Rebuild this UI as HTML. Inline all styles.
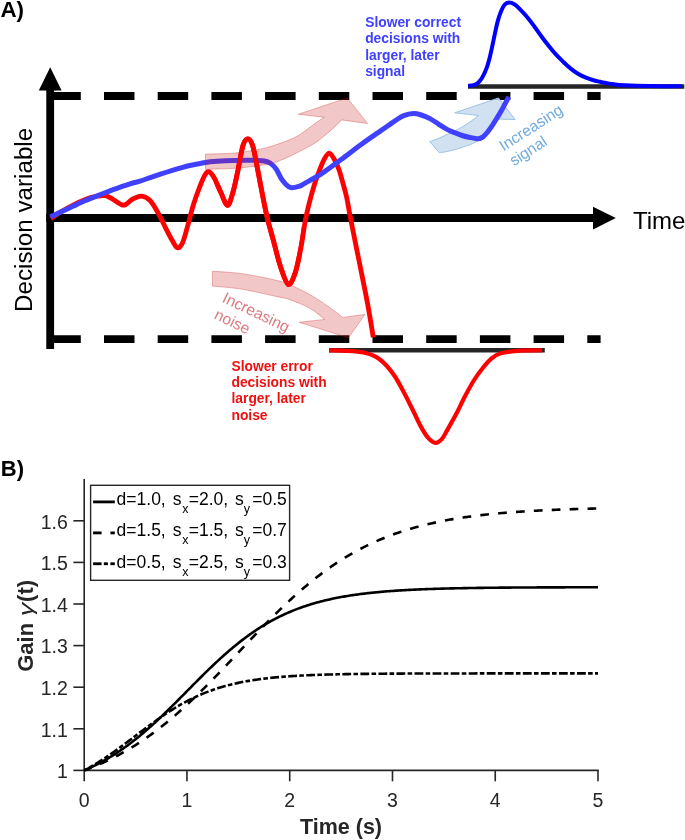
<!DOCTYPE html>
<html><head><meta charset="utf-8"><title>Figure</title>
<style>
html,body{margin:0;padding:0;background:#fff;}
body{width:685px;height:840px;overflow:hidden;}
svg{display:block;}
text{font-family:"Liberation Sans",Arial,Helvetica,sans-serif;}
</style></head><body>
<svg width="685" height="840" viewBox="0 0 685 840">
<rect width="685" height="840" fill="#fff"/>
<defs>
<clipPath id="redclip"><rect x="214" y="100" width="88" height="200"/></clipPath>
</defs>
<!-- Panel A -->
<text x="0.4" y="16.6" font-size="22.4" font-weight="bold" fill="#000">A)</text>
<g fill="none" stroke="#000" stroke-width="7.8" stroke-dasharray="30.5 23.2">
<line x1="50.3" y1="96" x2="600.6" y2="96"/>
<line x1="50.3" y1="339.2" x2="600.6" y2="339.2"/>
</g>
<line x1="50.2" y1="349" x2="50.2" y2="89" stroke="#000" stroke-width="7.8"/>
<polygon points="38.8,90.4 61.6,90.4 50.2,67.2" fill="#000"/>
<line x1="46.3" y1="218" x2="594" y2="218" stroke="#000" stroke-width="8"/>
<polygon points="593,206.8 593,229.4 615.8,218.1" fill="#000"/>
<text x="633" y="228.6" font-size="24" fill="#000">Time</text>
<text transform="translate(32.1,312) rotate(-90)" font-size="24.2" fill="#000">Decision variable</text>

<path d="M429.80,141.60 C431.50,140.95 435.38,139.72 440.00,137.70 C444.62,135.68 452.63,132.03 457.50,129.50 C462.37,126.97 465.70,124.83 469.20,122.50 C472.70,120.17 476.95,116.67 478.50,115.50 L454.7,112.8 L498.5,98.0 L515.2,119.6 L496.0,119.0 C495.03,120.75 492.53,126.42 490.20,129.50 C487.87,132.58 484.53,135.35 482.00,137.50 C479.47,139.65 478.10,140.82 475.00,142.40 C471.90,143.98 467.28,145.65 463.40,147.00 C459.52,148.35 455.70,149.52 451.70,150.50 C447.70,151.48 441.45,152.50 439.40,152.90 Z" fill="#c9dcf0" fill-opacity="0.85" stroke="#9fc3e6" stroke-width="1"/>
<path id="redp" d="M50.80,218.60 C52.67,217.37 57.97,213.62 62.00,211.20 C66.03,208.78 71.10,206.05 75.00,204.10 C78.90,202.15 82.42,200.67 85.40,199.50 C88.38,198.33 90.47,197.70 92.90,197.10 C95.33,196.50 97.82,196.13 100.00,195.90 C102.18,195.67 103.83,195.13 106.00,195.70 C108.17,196.27 110.08,197.72 113.00,199.30 C115.92,200.88 120.33,205.17 123.50,205.20 C126.67,205.23 129.02,201.00 132.00,199.50 C134.98,198.00 138.40,196.03 141.40,196.20 C144.40,196.37 147.25,197.77 150.00,200.50 C152.75,203.23 155.27,207.97 157.90,212.60 C160.53,217.23 163.40,223.63 165.80,228.30 C168.20,232.97 170.33,237.33 172.30,240.60 C174.27,243.87 175.85,247.63 177.60,247.90 C179.35,248.17 181.05,246.12 182.80,242.20 C184.55,238.28 186.33,230.65 188.10,224.40 C189.87,218.15 191.43,211.05 193.40,204.70 C195.37,198.35 197.93,191.33 199.90,186.30 C201.87,181.27 203.67,176.92 205.20,174.50 C206.73,172.08 207.57,171.15 209.10,171.80 C210.63,172.45 212.42,174.90 214.40,178.40 C216.38,181.90 218.82,188.32 221.00,192.80 C223.18,197.28 225.53,205.30 227.50,205.30 C229.47,205.30 231.15,198.17 232.80,192.80 C234.45,187.43 235.72,180.95 237.40,173.10 C239.08,165.25 241.17,151.42 242.90,145.70 C244.63,139.98 246.17,138.80 247.80,138.80 C249.43,138.80 251.07,140.62 252.70,145.70 C254.33,150.78 255.97,161.10 257.60,169.30 C259.23,177.50 260.87,186.70 262.50,194.90 C264.13,203.10 265.60,210.97 267.40,218.50 C269.20,226.03 271.17,232.23 273.30,240.10 C275.43,247.97 277.73,258.33 280.20,265.70 C282.67,273.07 285.63,283.00 288.10,284.30 C290.57,285.60 292.87,279.55 295.00,273.50 C297.13,267.45 299.20,256.72 300.90,248.00 C302.60,239.28 303.77,228.85 305.20,221.20 C306.63,213.55 307.98,208.13 309.50,202.10 C311.02,196.07 312.72,190.07 314.30,185.00 C315.88,179.93 317.42,175.83 319.00,171.70 C320.58,167.57 322.13,163.30 323.80,160.20 C325.47,157.10 327.25,153.25 329.00,153.10 C330.75,152.95 332.63,156.52 334.30,159.30 C335.97,162.08 337.57,165.83 339.00,169.80 C340.43,173.77 341.62,178.50 342.90,183.10 C344.18,187.70 345.53,192.08 346.70,197.40 C347.87,202.72 348.38,207.10 349.90,215.00 C351.42,222.90 353.82,234.88 355.80,244.80 C357.78,254.72 359.82,264.58 361.80,274.50 C363.78,284.42 365.78,293.83 367.70,304.30 C369.62,314.77 372.37,331.80 373.30,337.30" fill="none" stroke="#ff0000" stroke-width="4.8" stroke-linejoin="round"/>
<path d="M50.30,217.10 C52.20,216.18 57.85,213.43 61.70,211.60 C65.55,209.77 69.52,207.90 73.40,206.10 C77.28,204.30 81.40,202.37 85.00,200.80 C88.60,199.23 90.42,198.52 95.00,196.70 C99.58,194.88 106.67,192.05 112.50,189.90 C118.33,187.75 125.42,185.25 130.00,183.80 C134.58,182.35 136.63,182.23 140.00,181.20 C143.37,180.17 146.80,178.77 150.20,177.60 C153.60,176.43 156.98,175.32 160.40,174.20 C163.82,173.08 167.28,171.95 170.70,170.90 C174.12,169.85 177.50,168.83 180.90,167.90 C184.30,166.97 187.70,166.07 191.10,165.30 C194.50,164.53 198.15,163.88 201.30,163.30 C204.45,162.72 205.98,162.23 210.00,161.80 C214.02,161.37 219.42,160.97 225.40,160.70 C231.38,160.43 240.78,160.25 245.90,160.20 C251.02,160.15 253.03,160.27 256.10,160.40 C259.17,160.53 261.92,160.52 264.30,161.00 C266.68,161.48 268.40,161.92 270.40,163.30 C272.40,164.68 274.33,166.50 276.30,169.30 C278.27,172.10 279.90,177.08 282.20,180.10 C284.50,183.12 287.15,186.42 290.10,187.40 C293.05,188.38 297.40,186.72 299.90,186.00 C302.40,185.28 301.60,185.07 305.10,183.10 C308.60,181.13 314.90,178.13 320.90,174.20 C326.90,170.27 334.33,164.50 341.10,159.50 C347.87,154.50 354.68,149.13 361.50,144.20 C368.32,139.27 376.42,133.80 382.00,129.90 C387.58,126.00 391.37,123.18 395.00,120.80 C398.63,118.42 400.73,116.80 403.80,115.60 C406.87,114.40 410.48,113.70 413.40,113.60 C416.32,113.50 418.53,114.17 421.30,115.00 C424.07,115.83 427.08,117.05 430.00,118.60 C432.92,120.15 435.88,122.47 438.80,124.30 C441.72,126.13 444.80,128.18 447.50,129.60 C450.20,131.02 452.58,131.82 455.00,132.80 C457.42,133.78 459.67,134.77 462.00,135.50 C464.33,136.23 466.25,136.65 469.00,137.20 C471.75,137.75 476.13,138.88 478.50,138.80 C480.87,138.72 481.62,137.92 483.20,136.70 C484.78,135.48 486.42,133.47 488.00,131.50 C489.58,129.53 491.13,127.27 492.70,124.90 C494.27,122.53 495.82,119.92 497.40,117.30 C498.98,114.68 500.62,112.05 502.20,109.20 C503.78,106.35 505.80,102.25 506.90,100.20 C508.00,98.15 508.48,97.45 508.80,96.90" fill="none" stroke="#4040ff" stroke-width="5.0" stroke-linejoin="round"/>
<g fill="rgb(200,20,20)" fill-opacity="0.24" stroke="rgb(200,20,20)" stroke-opacity="0.3" stroke-width="1">
<path d="M205.50,154.10 C210.42,153.92 226.68,153.70 235.00,153.00 C243.32,152.30 250.28,150.75 255.40,149.90 C260.52,149.05 262.28,148.75 265.70,147.90 C269.12,147.05 271.85,146.18 275.90,144.80 C279.95,143.42 286.18,141.20 290.00,139.60 C293.82,138.00 295.88,136.95 298.80,135.20 C301.72,133.45 304.58,131.22 307.50,129.10 C310.42,126.98 313.52,124.47 316.30,122.50 C319.08,120.53 322.88,118.17 324.20,117.30 L298.3,114.2 L347.2,97.9 L367.6,123.5 L341.7,119.9 C340.38,121.22 336.58,125.25 333.80,127.80 C331.02,130.35 327.92,132.80 325.00,135.20 C322.08,137.60 319.95,139.80 316.30,142.20 C312.65,144.60 307.28,147.35 303.10,149.60 C298.92,151.85 294.88,153.95 291.20,155.70 C287.52,157.45 284.40,158.77 281.00,160.10 C277.60,161.43 275.97,162.58 270.80,163.70 C265.63,164.82 255.97,166.03 250.00,166.80 C244.03,167.57 242.42,167.87 235.00,168.30 C227.58,168.73 210.42,169.22 205.50,169.40 Z"/>
<path d="M212.40,271.20 C217.37,271.62 231.02,272.05 242.20,273.70 C253.38,275.35 269.87,278.47 279.50,281.10 C289.13,283.73 293.87,286.62 300.00,289.50 C306.13,292.38 310.73,294.95 316.30,298.40 C321.87,301.85 329.02,307.03 333.40,310.20 C337.78,313.37 341.07,316.20 342.60,317.40 L364.9,314.4 L348.5,337.8 L299.2,322.3 L324.8,319.4 C322.28,317.53 315.50,311.48 309.70,308.20 C303.90,304.92 295.03,301.53 290.00,299.70 C284.97,297.87 287.47,298.93 279.50,297.20 C271.53,295.47 253.38,291.15 242.20,289.30 C231.02,287.45 217.37,286.63 212.40,286.10 Z"/>
</g>
<path d="M50.80,218.60 C52.67,217.37 57.97,213.62 62.00,211.20 C66.03,208.78 71.10,206.05 75.00,204.10 C78.90,202.15 82.42,200.67 85.40,199.50 C88.38,198.33 90.47,197.70 92.90,197.10 C95.33,196.50 97.82,196.13 100.00,195.90 C102.18,195.67 103.83,195.13 106.00,195.70 C108.17,196.27 110.08,197.72 113.00,199.30 C115.92,200.88 120.33,205.17 123.50,205.20 C126.67,205.23 129.02,201.00 132.00,199.50 C134.98,198.00 138.40,196.03 141.40,196.20 C144.40,196.37 147.25,197.77 150.00,200.50 C152.75,203.23 155.27,207.97 157.90,212.60 C160.53,217.23 163.40,223.63 165.80,228.30 C168.20,232.97 170.33,237.33 172.30,240.60 C174.27,243.87 175.85,247.63 177.60,247.90 C179.35,248.17 181.05,246.12 182.80,242.20 C184.55,238.28 186.33,230.65 188.10,224.40 C189.87,218.15 191.43,211.05 193.40,204.70 C195.37,198.35 197.93,191.33 199.90,186.30 C201.87,181.27 203.67,176.92 205.20,174.50 C206.73,172.08 207.57,171.15 209.10,171.80 C210.63,172.45 212.42,174.90 214.40,178.40 C216.38,181.90 218.82,188.32 221.00,192.80 C223.18,197.28 225.53,205.30 227.50,205.30 C229.47,205.30 231.15,198.17 232.80,192.80 C234.45,187.43 235.72,180.95 237.40,173.10 C239.08,165.25 241.17,151.42 242.90,145.70 C244.63,139.98 246.17,138.80 247.80,138.80 C249.43,138.80 251.07,140.62 252.70,145.70 C254.33,150.78 255.97,161.10 257.60,169.30 C259.23,177.50 260.87,186.70 262.50,194.90 C264.13,203.10 265.60,210.97 267.40,218.50 C269.20,226.03 271.17,232.23 273.30,240.10 C275.43,247.97 277.73,258.33 280.20,265.70 C282.67,273.07 285.63,283.00 288.10,284.30 C290.57,285.60 292.87,279.55 295.00,273.50 C297.13,267.45 299.20,256.72 300.90,248.00 C302.60,239.28 303.77,228.85 305.20,221.20 C306.63,213.55 307.98,208.13 309.50,202.10 C311.02,196.07 312.72,190.07 314.30,185.00 C315.88,179.93 317.42,175.83 319.00,171.70 C320.58,167.57 322.13,163.30 323.80,160.20 C325.47,157.10 327.25,153.25 329.00,153.10 C330.75,152.95 332.63,156.52 334.30,159.30 C335.97,162.08 337.57,165.83 339.00,169.80 C340.43,173.77 341.62,178.50 342.90,183.10 C344.18,187.70 345.53,192.08 346.70,197.40 C347.87,202.72 348.38,207.10 349.90,215.00 C351.42,222.90 353.82,234.88 355.80,244.80 C357.78,254.72 359.82,264.58 361.80,274.50 C363.78,284.42 365.78,293.83 367.70,304.30 C369.62,314.77 372.37,331.80 373.30,337.30" fill="none" stroke="#ff0000" stroke-width="4.8" clip-path="url(#redclip)"/>

<text transform="translate(221.2,301.5) rotate(25.6)" font-size="15.7" fill="#dd7a80"><tspan x="0" y="0">Increasing</tspan><tspan x="0" y="18.6">noise</tspan></text>
<text transform="translate(503.6,151.6) rotate(-33)" font-size="15.6" fill="#72aadb"><tspan x="0" y="0">Increasing</tspan><tspan x="0.6" y="18">signal</tspan></text>

<g font-size="13.8" font-weight="bold" fill="#4040ff">
<text x="365.2" y="27.2">Slower correct</text>
<text x="365.2" y="43.1">decisions with</text>
<text x="365.2" y="59.6">larger, later</text>
<text x="365.2" y="76.1">signal</text>
</g>
<g font-size="13.8" font-weight="bold" fill="#f01010" transform="translate(0.5,0)">
<text x="231" y="370.5">Slower error</text>
<text x="231" y="386.8">decisions with</text>
<text x="231" y="403.2">larger, later</text>
<text x="231" y="419.6">noise</text>
</g>

<line x1="468" y1="86.5" x2="684.3" y2="86.5" stroke="#262626" stroke-width="4.4"/>
<path d="M468.20,85.80 C469.10,85.70 471.98,85.67 473.60,85.20 C475.22,84.73 476.48,84.25 477.90,83.00 C479.32,81.75 480.68,80.10 482.10,77.70 C483.52,75.30 485.15,71.90 486.40,68.60 C487.65,65.30 488.62,61.65 489.60,57.90 C490.58,54.15 491.40,50.22 492.30,46.10 C493.20,41.98 494.10,37.32 495.00,33.20 C495.90,29.08 496.72,24.97 497.70,21.40 C498.68,17.83 499.75,14.57 500.90,11.80 C502.05,9.03 503.25,6.33 504.60,4.80 C505.95,3.27 507.38,2.68 509.00,2.60 C510.62,2.52 512.53,3.27 514.30,4.30 C516.07,5.33 517.50,6.72 519.60,8.80 C521.70,10.88 524.47,13.88 526.90,16.80 C529.33,19.72 531.77,23.02 534.20,26.30 C536.63,29.58 539.07,33.22 541.50,36.50 C543.93,39.78 546.37,42.97 548.80,46.00 C551.23,49.03 553.67,52.03 556.10,54.70 C558.53,57.37 560.97,59.68 563.40,62.00 C565.83,64.32 568.27,66.65 570.70,68.60 C573.13,70.55 575.57,72.23 578.00,73.70 C580.43,75.17 582.87,76.35 585.30,77.40 C587.73,78.45 590.17,79.27 592.60,80.00 C595.03,80.73 597.83,81.33 599.90,81.80 C601.97,82.27 602.65,82.38 605.00,82.80 C607.35,83.22 610.72,83.90 614.00,84.30 C617.28,84.70 618.70,84.92 624.70,85.20 C630.70,85.48 640.45,85.82 650.00,86.00 C659.55,86.18 676.67,86.25 682.00,86.30" fill="none" stroke="#0000ff" stroke-width="4"/>
<line x1="329" y1="350.3" x2="544.8" y2="350.3" stroke="#262626" stroke-width="4.4"/>
<path d="M329.10,350.40 C331.97,350.47 340.52,350.45 346.30,350.80 C352.08,351.15 358.83,351.48 363.80,352.50 C368.77,353.52 372.30,354.70 376.10,356.90 C379.90,359.10 383.40,362.35 386.60,365.70 C389.80,369.05 392.38,372.48 395.30,377.00 C398.22,381.52 401.17,387.25 404.10,392.80 C407.03,398.35 409.98,404.45 412.90,410.30 C415.82,416.15 418.98,423.22 421.60,427.90 C424.22,432.58 426.28,435.92 428.60,438.40 C430.92,440.88 433.27,442.73 435.50,442.80 C437.73,442.87 440.00,441.00 442.00,438.80 C444.00,436.60 445.12,433.77 447.50,429.60 C449.88,425.43 453.38,419.35 456.30,413.80 C459.22,408.25 462.08,401.85 465.00,396.30 C467.92,390.75 470.87,385.17 473.80,380.50 C476.73,375.83 479.68,371.93 482.60,368.30 C485.52,364.67 488.38,361.18 491.30,358.70 C494.22,356.22 495.72,354.72 500.10,353.40 C504.48,352.08 510.60,351.30 517.60,350.80 C524.60,350.30 538.02,350.47 542.10,350.40" fill="none" stroke="#ff0000" stroke-width="4.2"/>

<!-- Panel B -->
<text x="0.8" y="476.3" font-size="22" font-weight="bold" fill="#000">B)</text>
<g stroke="#262626" stroke-width="1.6" fill="none">
<line x1="84.2" y1="479" x2="84.2" y2="770.4"/>
<line x1="84.2" y1="770.4" x2="598.8" y2="770.4"/>
<line x1="73.4" y1="770.40" x2="84.20" y2="770.40"/><line x1="73.4" y1="728.80" x2="84.20" y2="728.80"/><line x1="73.4" y1="687.20" x2="84.20" y2="687.20"/><line x1="73.4" y1="645.60" x2="84.20" y2="645.60"/><line x1="73.4" y1="604.00" x2="84.20" y2="604.00"/><line x1="73.4" y1="562.40" x2="84.20" y2="562.40"/><line x1="73.4" y1="520.80" x2="84.20" y2="520.80"/><line x1="84.20" y1="770.40" x2="84.20" y2="781.3"/><line x1="186.96" y1="770.40" x2="186.96" y2="781.3"/><line x1="289.72" y1="770.40" x2="289.72" y2="781.3"/><line x1="392.48" y1="770.40" x2="392.48" y2="781.3"/><line x1="495.24" y1="770.40" x2="495.24" y2="781.3"/><line x1="598.00" y1="770.40" x2="598.00" y2="781.3"/>
</g>
<g font-size="19.5" fill="#262626" text-anchor="end"><text x="67.8" y="778.10">1</text><text x="67.8" y="736.50">1.1</text><text x="67.8" y="694.90">1.2</text><text x="67.8" y="653.30">1.3</text><text x="67.8" y="611.70">1.4</text><text x="67.8" y="570.10">1.5</text><text x="67.8" y="528.50">1.6</text></g>
<g font-size="19.5" fill="#262626" text-anchor="middle"><text x="84.20" y="807.1">0</text><text x="186.96" y="807.1">1</text><text x="289.72" y="807.1">2</text><text x="392.48" y="807.1">3</text><text x="495.24" y="807.1">4</text><text x="598.00" y="807.1">5</text></g>
<text x="341" y="834.2" font-size="21.5" font-weight="bold" fill="#262626" text-anchor="middle">Time (s)</text>
<g fill="#262626">
<text transform="translate(32.8,671.8) rotate(-90)" font-size="22" font-weight="bold">Gain</text>
<text transform="translate(32.8,616.3) rotate(-90) scale(1.22,0.95)" font-size="22" font-family="Liberation Serif, serif" font-style="italic">γ</text>
<text transform="translate(32.8,601.9) rotate(-90)" font-size="22" font-weight="bold">(t)</text>
</g>

<g fill="none" stroke="#000" stroke-width="2.6">
<path d="M84.20,770.40 L85.48,769.85 L86.77,769.29 L88.05,768.71 L89.34,768.13 L90.62,767.54 L91.91,766.93 L93.19,766.32 L94.48,765.69 L95.76,765.05 L97.05,764.40 L98.33,763.74 L99.61,763.07 L100.90,762.38 L102.18,761.68 L103.47,760.97 L104.75,760.25 L106.04,759.52 L107.32,758.78 L108.61,758.02 L109.89,757.25 L111.17,756.47 L112.46,755.67 L113.74,754.87 L115.03,754.05 L116.31,753.22 L117.60,752.37 L118.88,751.52 L120.17,750.65 L121.45,749.77 L122.74,748.87 L124.02,747.97 L125.30,747.05 L126.59,746.12 L127.87,745.17 L129.16,744.22 L130.44,743.25 L131.73,742.27 L133.01,741.28 L134.30,740.27 L135.58,739.25 L136.86,738.23 L138.15,737.19 L139.43,736.13 L140.72,735.07 L142.00,734.00 L143.29,732.91 L144.57,731.82 L145.86,730.71 L147.14,729.59 L148.43,728.46 L149.71,727.33 L150.99,726.18 L152.28,725.02 L153.56,723.85 L154.85,722.68 L156.13,721.49 L157.42,720.30 L158.70,719.09 L159.99,717.88 L161.27,716.67 L162.55,715.44 L163.84,714.21 L165.12,712.97 L166.41,711.72 L167.69,710.47 L168.98,709.21 L170.26,707.95 L171.55,706.68 L172.83,705.40 L174.12,704.13 L175.40,702.85 L176.68,701.56 L177.97,700.27 L179.25,698.98 L180.54,697.69 L181.82,696.39 L183.11,695.09 L184.39,693.79 L185.68,692.49 L186.96,691.19 L188.24,689.89 L189.53,688.59 L190.81,687.30 L192.10,686.00 L193.38,684.70 L194.67,683.41 L195.95,682.12 L197.24,680.83 L198.52,679.54 L199.81,678.26 L201.09,676.98 L202.37,675.71 L203.66,674.44 L204.94,673.18 L206.23,671.92 L207.51,670.67 L208.80,669.42 L210.08,668.18 L211.37,666.95 L212.65,665.72 L213.93,664.50 L215.22,663.29 L216.50,662.09 L217.79,660.90 L219.07,659.71 L220.36,658.54 L221.64,657.37 L222.93,656.21 L224.21,655.06 L225.50,653.93 L226.78,652.80 L228.06,651.68 L229.35,650.57 L230.63,649.48 L231.92,648.39 L233.20,647.32 L234.49,646.25 L235.77,645.20 L237.06,644.16 L238.34,643.13 L239.62,642.12 L240.91,641.11 L242.19,640.12 L243.48,639.14 L244.76,638.17 L246.05,637.22 L247.33,636.27 L248.62,635.34 L249.90,634.42 L251.19,633.52 L252.47,632.62 L253.75,631.74 L255.04,630.87 L256.32,630.02 L257.61,629.17 L258.89,628.34 L260.18,627.52 L261.46,626.71 L262.75,625.92 L264.03,625.14 L265.31,624.37 L266.60,623.61 L267.88,622.87 L269.17,622.13 L270.45,621.41 L271.74,620.70 L273.02,620.01 L274.31,619.32 L275.59,618.65 L276.88,617.99 L278.16,617.34 L279.44,616.70 L280.73,616.07 L282.01,615.46 L283.30,614.85 L284.58,614.26 L285.87,613.67 L287.15,613.10 L288.44,612.54 L289.72,611.99 L291.00,611.45 L292.29,610.92 L293.57,610.40 L294.86,609.89 L296.14,609.39 L297.43,608.90 L298.71,608.41 L300.00,607.94 L301.28,607.48 L302.56,607.03 L303.85,606.58 L305.13,606.15 L306.42,605.72 L307.70,605.30 L308.99,604.89 L310.27,604.49 L311.56,604.10 L312.84,603.72 L314.13,603.34 L315.41,602.97 L316.69,602.61 L317.98,602.26 L319.26,601.91 L320.55,601.57 L321.83,601.24 L323.12,600.92 L324.40,600.60 L325.69,600.29 L326.97,599.99 L328.25,599.69 L329.54,599.40 L330.82,599.12 L332.11,598.84 L333.39,598.57 L334.68,598.30 L335.96,598.04 L337.25,597.79 L338.53,597.54 L339.82,597.30 L341.10,597.06 L342.38,596.83 L343.67,596.60 L344.95,596.38 L346.24,596.16 L347.52,595.95 L348.81,595.74 L350.09,595.54 L351.38,595.34 L352.66,595.15 L353.94,594.96 L355.23,594.77 L356.51,594.59 L357.80,594.42 L359.08,594.24 L360.37,594.08 L361.65,593.91 L362.94,593.75 L364.22,593.59 L365.51,593.44 L366.79,593.29 L368.07,593.14 L369.36,593.00 L370.64,592.86 L371.93,592.73 L373.21,592.59 L374.50,592.46 L375.78,592.34 L377.07,592.21 L378.35,592.09 L379.63,591.97 L380.92,591.86 L382.20,591.75 L383.49,591.64 L384.77,591.53 L386.06,591.42 L387.34,591.32 L388.63,591.22 L389.91,591.12 L391.20,591.03 L392.48,590.94 L393.76,590.84 L395.05,590.76 L396.33,590.67 L397.62,590.59 L398.90,590.50 L400.19,590.42 L401.47,590.34 L402.76,590.27 L404.04,590.19 L405.32,590.12 L406.61,590.05 L407.89,589.98 L409.18,589.91 L410.46,589.84 L411.75,589.78 L413.03,589.72 L414.32,589.66 L415.60,589.60 L416.89,589.54 L418.17,589.48 L419.45,589.42 L420.74,589.37 L422.02,589.32 L423.31,589.26 L424.59,589.21 L425.88,589.16 L427.16,589.12 L428.45,589.07 L429.73,589.02 L431.01,588.98 L432.30,588.93 L433.58,588.89 L434.87,588.85 L436.15,588.81 L437.44,588.77 L438.72,588.73 L440.01,588.69 L441.29,588.66 L442.58,588.62 L443.86,588.59 L445.14,588.55 L446.43,588.52 L447.71,588.49 L449.00,588.45 L450.28,588.42 L451.57,588.39 L452.85,588.36 L454.14,588.34 L455.42,588.31 L456.70,588.28 L457.99,588.25 L459.27,588.23 L460.56,588.20 L461.84,588.18 L463.13,588.15 L464.41,588.13 L465.70,588.11 L466.98,588.08 L468.27,588.06 L469.55,588.04 L470.83,588.02 L472.12,588.00 L473.40,587.98 L474.69,587.96 L475.97,587.94 L477.26,587.92 L478.54,587.91 L479.83,587.89 L481.11,587.87 L482.39,587.85 L483.68,587.84 L484.96,587.82 L486.25,587.81 L487.53,587.79 L488.82,587.78 L490.10,587.76 L491.39,587.75 L492.67,587.73 L493.96,587.72 L495.24,587.71 L496.52,587.70 L497.81,587.68 L499.09,587.67 L500.38,587.66 L501.66,587.65 L502.95,587.64 L504.23,587.63 L505.52,587.62 L506.80,587.61 L508.09,587.59 L509.37,587.59 L510.65,587.58 L511.94,587.57 L513.22,587.56 L514.51,587.55 L515.79,587.54 L517.08,587.53 L518.36,587.52 L519.65,587.51 L520.93,587.51 L522.21,587.50 L523.50,587.49 L524.78,587.48 L526.07,587.48 L527.35,587.47 L528.64,587.46 L529.92,587.46 L531.21,587.45 L532.49,587.44 L533.78,587.44 L535.06,587.43 L536.34,587.43 L537.63,587.42 L538.91,587.41 L540.20,587.41 L541.48,587.40 L542.77,587.40 L544.05,587.39 L545.34,587.39 L546.62,587.38 L547.90,587.38 L549.19,587.37 L550.47,587.37 L551.76,587.37 L553.04,587.36 L554.33,587.36 L555.61,587.35 L556.90,587.35 L558.18,587.35 L559.47,587.34 L560.75,587.34 L562.03,587.33 L563.32,587.33 L564.60,587.33 L565.89,587.32 L567.17,587.32 L568.46,587.32 L569.74,587.32 L571.03,587.31 L572.31,587.31 L573.59,587.31 L574.88,587.30 L576.16,587.30 L577.45,587.30 L578.73,587.30 L580.02,587.29 L581.30,587.29 L582.59,587.29 L583.87,587.29 L585.16,587.28 L586.44,587.28 L587.72,587.28 L589.01,587.28 L590.29,587.28 L591.58,587.27 L592.86,587.27 L594.15,587.27 L595.43,587.27 L596.72,587.27 L598.00,587.26"/>
<path d="M84.20,770.40 L85.48,769.93 L86.77,769.44 L88.05,768.95 L89.34,768.46 L90.62,767.95 L91.91,767.44 L93.19,766.92 L94.48,766.40 L95.76,765.86 L97.05,765.32 L98.33,764.77 L99.61,764.21 L100.90,763.64 L102.18,763.07 L103.47,762.49 L104.75,761.90 L106.04,761.30 L107.32,760.69 L108.61,760.07 L109.89,759.45 L111.17,758.81 L112.46,758.17 L113.74,757.52 L115.03,756.86 L116.31,756.19 L117.60,755.51 L118.88,754.82 L120.17,754.13 L121.45,753.42 L122.74,752.71 L124.02,751.98 L125.30,751.25 L126.59,750.51 L127.87,749.76 L129.16,748.99 L130.44,748.22 L131.73,747.44 L133.01,746.65 L134.30,745.85 L135.58,745.04 L136.86,744.22 L138.15,743.40 L139.43,742.56 L140.72,741.71 L142.00,740.85 L143.29,739.98 L144.57,739.10 L145.86,738.22 L147.14,737.32 L148.43,736.41 L149.71,735.49 L150.99,734.57 L152.28,733.63 L153.56,732.68 L154.85,731.73 L156.13,730.76 L157.42,729.78 L158.70,728.80 L159.99,727.80 L161.27,726.80 L162.55,725.78 L163.84,724.76 L165.12,723.72 L166.41,722.68 L167.69,721.63 L168.98,720.56 L170.26,719.49 L171.55,718.41 L172.83,717.32 L174.12,716.22 L175.40,715.11 L176.68,713.99 L177.97,712.87 L179.25,711.73 L180.54,710.59 L181.82,709.44 L183.11,708.28 L184.39,707.11 L185.68,705.93 L186.96,704.74 L188.24,703.55 L189.53,702.35 L190.81,701.14 L192.10,699.92 L193.38,698.70 L194.67,697.47 L195.95,696.23 L197.24,694.98 L198.52,693.73 L199.81,692.47 L201.09,691.20 L202.37,689.93 L203.66,688.65 L204.94,687.37 L206.23,686.08 L207.51,684.78 L208.80,683.48 L210.08,682.18 L211.37,680.87 L212.65,679.55 L213.93,678.23 L215.22,676.91 L216.50,675.58 L217.79,674.24 L219.07,672.91 L220.36,671.57 L221.64,670.22 L222.93,668.88 L224.21,667.53 L225.50,666.18 L226.78,664.82 L228.06,663.47 L229.35,662.11 L230.63,660.75 L231.92,659.39 L233.20,658.02 L234.49,656.66 L235.77,655.30 L237.06,653.93 L238.34,652.57 L239.62,651.20 L240.91,649.84 L242.19,648.47 L243.48,647.11 L244.76,645.75 L246.05,644.38 L247.33,643.02 L248.62,641.67 L249.90,640.31 L251.19,638.96 L252.47,637.60 L253.75,636.25 L255.04,634.91 L256.32,633.56 L257.61,632.22 L258.89,630.89 L260.18,629.56 L261.46,628.23 L262.75,626.90 L264.03,625.58 L265.31,624.27 L266.60,622.95 L267.88,621.65 L269.17,620.35 L270.45,619.05 L271.74,617.76 L273.02,616.48 L274.31,615.20 L275.59,613.93 L276.88,612.66 L278.16,611.40 L279.44,610.15 L280.73,608.90 L282.01,607.67 L283.30,606.43 L284.58,605.21 L285.87,603.99 L287.15,602.78 L288.44,601.58 L289.72,600.39 L291.00,599.20 L292.29,598.03 L293.57,596.86 L294.86,595.70 L296.14,594.54 L297.43,593.40 L298.71,592.26 L300.00,591.14 L301.28,590.02 L302.56,588.91 L303.85,587.81 L305.13,586.72 L306.42,585.64 L307.70,584.57 L308.99,583.51 L310.27,582.45 L311.56,581.41 L312.84,580.37 L314.13,579.35 L315.41,578.33 L316.69,577.33 L317.98,576.33 L319.26,575.35 L320.55,574.37 L321.83,573.40 L323.12,572.45 L324.40,571.50 L325.69,570.56 L326.97,569.64 L328.25,568.72 L329.54,567.81 L330.82,566.92 L332.11,566.03 L333.39,565.15 L334.68,564.28 L335.96,563.42 L337.25,562.57 L338.53,561.74 L339.82,560.91 L341.10,560.09 L342.38,559.28 L343.67,558.48 L344.95,557.69 L346.24,556.91 L347.52,556.14 L348.81,555.38 L350.09,554.62 L351.38,553.88 L352.66,553.15 L353.94,552.42 L355.23,551.71 L356.51,551.00 L357.80,550.31 L359.08,549.62 L360.37,548.94 L361.65,548.27 L362.94,547.61 L364.22,546.96 L365.51,546.32 L366.79,545.68 L368.07,545.06 L369.36,544.44 L370.64,543.84 L371.93,543.24 L373.21,542.64 L374.50,542.06 L375.78,541.49 L377.07,540.92 L378.35,540.36 L379.63,539.81 L380.92,539.27 L382.20,538.73 L383.49,538.21 L384.77,537.69 L386.06,537.18 L387.34,536.67 L388.63,536.18 L389.91,535.69 L391.20,535.21 L392.48,534.73 L393.76,534.26 L395.05,533.80 L396.33,533.35 L397.62,532.90 L398.90,532.46 L400.19,532.03 L401.47,531.61 L402.76,531.19 L404.04,530.77 L405.32,530.37 L406.61,529.97 L407.89,529.57 L409.18,529.18 L410.46,528.80 L411.75,528.43 L413.03,528.06 L414.32,527.69 L415.60,527.33 L416.89,526.98 L418.17,526.64 L419.45,526.29 L420.74,525.96 L422.02,525.63 L423.31,525.30 L424.59,524.98 L425.88,524.67 L427.16,524.36 L428.45,524.06 L429.73,523.76 L431.01,523.46 L432.30,523.17 L433.58,522.89 L434.87,522.61 L436.15,522.33 L437.44,522.06 L438.72,521.80 L440.01,521.54 L441.29,521.28 L442.58,521.02 L443.86,520.78 L445.14,520.53 L446.43,520.29 L447.71,520.05 L449.00,519.82 L450.28,519.59 L451.57,519.37 L452.85,519.15 L454.14,518.93 L455.42,518.72 L456.70,518.51 L457.99,518.30 L459.27,518.10 L460.56,517.90 L461.84,517.71 L463.13,517.51 L464.41,517.32 L465.70,517.14 L466.98,516.96 L468.27,516.78 L469.55,516.60 L470.83,516.43 L472.12,516.26 L473.40,516.09 L474.69,515.93 L475.97,515.76 L477.26,515.61 L478.54,515.45 L479.83,515.30 L481.11,515.15 L482.39,515.00 L483.68,514.85 L484.96,514.71 L486.25,514.57 L487.53,514.43 L488.82,514.30 L490.10,514.17 L491.39,514.03 L492.67,513.91 L493.96,513.78 L495.24,513.66 L496.52,513.54 L497.81,513.42 L499.09,513.30 L500.38,513.18 L501.66,513.07 L502.95,512.96 L504.23,512.85 L505.52,512.74 L506.80,512.64 L508.09,512.53 L509.37,512.43 L510.65,512.33 L511.94,512.24 L513.22,512.14 L514.51,512.05 L515.79,511.95 L517.08,511.86 L518.36,511.77 L519.65,511.68 L520.93,511.60 L522.21,511.51 L523.50,511.43 L524.78,511.35 L526.07,511.27 L527.35,511.19 L528.64,511.11 L529.92,511.04 L531.21,510.96 L532.49,510.89 L533.78,510.82 L535.06,510.75 L536.34,510.68 L537.63,510.61 L538.91,510.54 L540.20,510.48 L541.48,510.41 L542.77,510.35 L544.05,510.29 L545.34,510.23 L546.62,510.17 L547.90,510.11 L549.19,510.05 L550.47,509.99 L551.76,509.94 L553.04,509.88 L554.33,509.83 L555.61,509.78 L556.90,509.72 L558.18,509.67 L559.47,509.62 L560.75,509.57 L562.03,509.53 L563.32,509.48 L564.60,509.43 L565.89,509.39 L567.17,509.34 L568.46,509.30 L569.74,509.26 L571.03,509.21 L572.31,509.17 L573.59,509.13 L574.88,509.09 L576.16,509.05 L577.45,509.01 L578.73,508.98 L580.02,508.94 L581.30,508.90 L582.59,508.87 L583.87,508.83 L585.16,508.80 L586.44,508.76 L587.72,508.73 L589.01,508.70 L590.29,508.67 L591.58,508.63 L592.86,508.60 L594.15,508.57 L595.43,508.54 L596.72,508.51 L598.00,508.49" stroke-dasharray="8.7 9.2" stroke-dashoffset="1"/>
<path d="M84.20,770.40 L85.48,769.72 L86.77,769.03 L88.05,768.32 L89.34,767.61 L90.62,766.88 L91.91,766.14 L93.19,765.39 L94.48,764.63 L95.76,763.86 L97.05,763.07 L98.33,762.28 L99.61,761.47 L100.90,760.66 L102.18,759.83 L103.47,759.00 L104.75,758.15 L106.04,757.30 L107.32,756.44 L108.61,755.56 L109.89,754.68 L111.17,753.79 L112.46,752.89 L113.74,751.99 L115.03,751.08 L116.31,750.16 L117.60,749.23 L118.88,748.30 L120.17,747.36 L121.45,746.41 L122.74,745.46 L124.02,744.51 L125.30,743.55 L126.59,742.59 L127.87,741.63 L129.16,740.66 L130.44,739.69 L131.73,738.72 L133.01,737.74 L134.30,736.77 L135.58,735.79 L136.86,734.82 L138.15,733.84 L139.43,732.87 L140.72,731.90 L142.00,730.93 L143.29,729.96 L144.57,729.00 L145.86,728.03 L147.14,727.08 L148.43,726.12 L149.71,725.17 L150.99,724.23 L152.28,723.29 L153.56,722.36 L154.85,721.43 L156.13,720.51 L157.42,719.60 L158.70,718.69 L159.99,717.79 L161.27,716.90 L162.55,716.02 L163.84,715.15 L165.12,714.29 L166.41,713.43 L167.69,712.59 L168.98,711.75 L170.26,710.93 L171.55,710.11 L172.83,709.31 L174.12,708.51 L175.40,707.73 L176.68,706.96 L177.97,706.20 L179.25,705.45 L180.54,704.71 L181.82,703.98 L183.11,703.26 L184.39,702.56 L185.68,701.87 L186.96,701.19 L188.24,700.52 L189.53,699.86 L190.81,699.21 L192.10,698.58 L193.38,697.96 L194.67,697.35 L195.95,696.75 L197.24,696.16 L198.52,695.58 L199.81,695.02 L201.09,694.47 L202.37,693.92 L203.66,693.39 L204.94,692.87 L206.23,692.37 L207.51,691.87 L208.80,691.38 L210.08,690.91 L211.37,690.44 L212.65,689.99 L213.93,689.54 L215.22,689.11 L216.50,688.68 L217.79,688.27 L219.07,687.86 L220.36,687.47 L221.64,687.08 L222.93,686.71 L224.21,686.34 L225.50,685.98 L226.78,685.63 L228.06,685.29 L229.35,684.96 L230.63,684.64 L231.92,684.32 L233.20,684.01 L234.49,683.71 L235.77,683.42 L237.06,683.14 L238.34,682.86 L239.62,682.59 L240.91,682.33 L242.19,682.07 L243.48,681.82 L244.76,681.58 L246.05,681.34 L247.33,681.12 L248.62,680.89 L249.90,680.67 L251.19,680.46 L252.47,680.26 L253.75,680.06 L255.04,679.86 L256.32,679.67 L257.61,679.49 L258.89,679.31 L260.18,679.14 L261.46,678.97 L262.75,678.81 L264.03,678.65 L265.31,678.49 L266.60,678.34 L267.88,678.19 L269.17,678.05 L270.45,677.91 L271.74,677.78 L273.02,677.65 L274.31,677.52 L275.59,677.40 L276.88,677.28 L278.16,677.16 L279.44,677.05 L280.73,676.94 L282.01,676.84 L283.30,676.73 L284.58,676.63 L285.87,676.54 L287.15,676.44 L288.44,676.35 L289.72,676.26 L291.00,676.17 L292.29,676.09 L293.57,676.01 L294.86,675.93 L296.14,675.85 L297.43,675.78 L298.71,675.71 L300.00,675.64 L301.28,675.57 L302.56,675.50 L303.85,675.44 L305.13,675.38 L306.42,675.32 L307.70,675.26 L308.99,675.20 L310.27,675.15 L311.56,675.09 L312.84,675.04 L314.13,674.99 L315.41,674.94 L316.69,674.90 L317.98,674.85 L319.26,674.81 L320.55,674.76 L321.83,674.72 L323.12,674.68 L324.40,674.64 L325.69,674.60 L326.97,674.57 L328.25,674.53 L329.54,674.50 L330.82,674.46 L332.11,674.43 L333.39,674.40 L334.68,674.37 L335.96,674.34 L337.25,674.31 L338.53,674.28 L339.82,674.25 L341.10,674.23 L342.38,674.20 L343.67,674.18 L344.95,674.15 L346.24,674.13 L347.52,674.11 L348.81,674.09 L350.09,674.07 L351.38,674.04 L352.66,674.02 L353.94,674.01 L355.23,673.99 L356.51,673.97 L357.80,673.95 L359.08,673.93 L360.37,673.92 L361.65,673.90 L362.94,673.89 L364.22,673.87 L365.51,673.86 L366.79,673.84 L368.07,673.83 L369.36,673.81 L370.64,673.80 L371.93,673.79 L373.21,673.78 L374.50,673.77 L375.78,673.75 L377.07,673.74 L378.35,673.73 L379.63,673.72 L380.92,673.71 L382.20,673.70 L383.49,673.69 L384.77,673.68 L386.06,673.67 L387.34,673.67 L388.63,673.66 L389.91,673.65 L391.20,673.64 L392.48,673.63 L393.76,673.63 L395.05,673.62 L396.33,673.61 L397.62,673.61 L398.90,673.60 L400.19,673.59 L401.47,673.59 L402.76,673.58 L404.04,673.57 L405.32,673.57 L406.61,673.56 L407.89,673.56 L409.18,673.55 L410.46,673.55 L411.75,673.54 L413.03,673.54 L414.32,673.53 L415.60,673.53 L416.89,673.53 L418.17,673.52 L419.45,673.52 L420.74,673.51 L422.02,673.51 L423.31,673.51 L424.59,673.50 L425.88,673.50 L427.16,673.50 L428.45,673.49 L429.73,673.49 L431.01,673.49 L432.30,673.48 L433.58,673.48 L434.87,673.48 L436.15,673.48 L437.44,673.47 L438.72,673.47 L440.01,673.47 L441.29,673.47 L442.58,673.46 L443.86,673.46 L445.14,673.46 L446.43,673.46 L447.71,673.46 L449.00,673.45 L450.28,673.45 L451.57,673.45 L452.85,673.45 L454.14,673.45 L455.42,673.45 L456.70,673.44 L457.99,673.44 L459.27,673.44 L460.56,673.44 L461.84,673.44 L463.13,673.44 L464.41,673.43 L465.70,673.43 L466.98,673.43 L468.27,673.43 L469.55,673.43 L470.83,673.43 L472.12,673.43 L473.40,673.43 L474.69,673.43 L475.97,673.42 L477.26,673.42 L478.54,673.42 L479.83,673.42 L481.11,673.42 L482.39,673.42 L483.68,673.42 L484.96,673.42 L486.25,673.42 L487.53,673.42 L488.82,673.42 L490.10,673.42 L491.39,673.41 L492.67,673.41 L493.96,673.41 L495.24,673.41 L496.52,673.41 L497.81,673.41 L499.09,673.41 L500.38,673.41 L501.66,673.41 L502.95,673.41 L504.23,673.41 L505.52,673.41 L506.80,673.41 L508.09,673.41 L509.37,673.41 L510.65,673.41 L511.94,673.41 L513.22,673.41 L514.51,673.41 L515.79,673.40 L517.08,673.40 L518.36,673.40 L519.65,673.40 L520.93,673.40 L522.21,673.40 L523.50,673.40 L524.78,673.40 L526.07,673.40 L527.35,673.40 L528.64,673.40 L529.92,673.40 L531.21,673.40 L532.49,673.40 L533.78,673.40 L535.06,673.40 L536.34,673.40 L537.63,673.40 L538.91,673.40 L540.20,673.40 L541.48,673.40 L542.77,673.40 L544.05,673.40 L545.34,673.40 L546.62,673.40 L547.90,673.40 L549.19,673.40 L550.47,673.40 L551.76,673.40 L553.04,673.40 L554.33,673.40 L555.61,673.40 L556.90,673.40 L558.18,673.40 L559.47,673.40 L560.75,673.40 L562.03,673.40 L563.32,673.40 L564.60,673.40 L565.89,673.40 L567.17,673.40 L568.46,673.40 L569.74,673.40 L571.03,673.40 L572.31,673.40 L573.59,673.40 L574.88,673.40 L576.16,673.40 L577.45,673.40 L578.73,673.40 L580.02,673.40 L581.30,673.40 L582.59,673.40 L583.87,673.40 L585.16,673.40 L586.44,673.40 L587.72,673.40 L589.01,673.39 L590.29,673.39 L591.58,673.39 L592.86,673.39 L594.15,673.39 L595.43,673.39 L596.72,673.39 L598.00,673.39" stroke-dasharray="8.8 2.3 4.6 2.35" stroke-dashoffset="5.5"/>
</g>

<rect x="90.6" y="485.3" width="199" height="95" fill="#fff" stroke="#262626" stroke-width="1.4"/>
<g stroke="#000" stroke-width="2.8">
<line x1="93.1" y1="501.9" x2="114.8" y2="501.9"/>
<line x1="93.1" y1="532.9" x2="101.6" y2="532.9"/>
<line x1="110.4" y1="532.9" x2="114.8" y2="532.9"/>
<line x1="93.1" y1="563.75" x2="101.6" y2="563.75"/>
<line x1="103.8" y1="563.75" x2="107.9" y2="563.75"/>
<line x1="110.4" y1="563.75" x2="114.8" y2="563.75"/>
</g>
<g font-size="17.5" fill="#000"><text y="504.6"><tspan x="116.6">d=1.0,</tspan><tspan x="172.7">s</tspan><tspan x="182.2" y="512.7" font-size="12.5">x</tspan><tspan x="188.7" y="504.6">=2.0,</tspan><tspan x="235.1">s</tspan><tspan x="243.8" y="512.7" font-size="12.5">y</tspan><tspan x="252.3" y="504.6">=0.5</tspan></text><text y="536.1"><tspan x="116.6">d=1.5,</tspan><tspan x="172.7">s</tspan><tspan x="182.2" y="544.2" font-size="12.5">x</tspan><tspan x="188.7" y="536.1">=1.5,</tspan><tspan x="235.1">s</tspan><tspan x="243.8" y="544.2" font-size="12.5">y</tspan><tspan x="252.3" y="536.1">=0.7</tspan></text><text y="567.6"><tspan x="116.6">d=0.5,</tspan><tspan x="172.7">s</tspan><tspan x="182.2" y="575.7" font-size="12.5">x</tspan><tspan x="188.7" y="567.6">=2.5,</tspan><tspan x="235.1">s</tspan><tspan x="243.8" y="575.7" font-size="12.5">y</tspan><tspan x="252.3" y="567.6">=0.3</tspan></text></g>
</svg>
</body></html>
